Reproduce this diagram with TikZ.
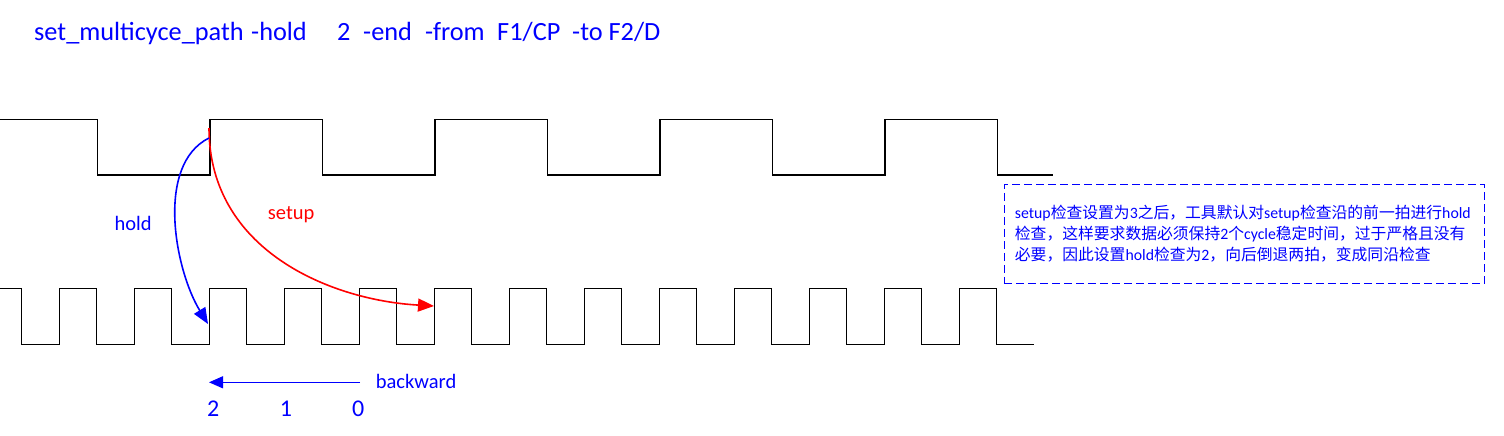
\documentclass[tikz,border=0pt]{standalone}
\usepackage{fontspec}
\setmainfont{Carlito}
\newfontfamily\cjk{Noto Sans CJK SC}
\usetikzlibrary{arrows.meta}
\definecolor{myblue}{RGB}{0,0,255}
\definecolor{myred}{RGB}{255,0,0}
\tikzset{
  clk/.style={line width=1.2pt, black},
  holdarrow/.style={line width=1.6pt, myblue, -{Triangle[length=16pt,width=13pt]}},
  setuparrow/.style={line width=1.6pt, myred, -{Triangle[length=16pt,width=13pt]}},
  backarrow/.style={line width=1.2pt, myblue, -{Triangle[length=14pt,width=12pt]}},
  titletext/.style={font=\fontsize{26.3}{31}\selectfont, text=myblue, inner sep=0pt, anchor=base west},
  lbl/.style={font=\fontsize{20.5}{24}\selectfont, inner sep=0pt, anchor=base west},
  digit/.style={font=\fontsize{24}{28}\selectfont, inner sep=0pt, anchor=base, text=myblue},
  notebox/.style={draw=myblue, line width=1.2pt, dash pattern=on 8pt off 4pt,
    minimum width=480pt, minimum height=99.4pt, text width=458.6pt, inner xsep=10.7pt,
    align=left, text=myblue, font=\fontsize{15.8}{21}\selectfont}
}
\begin{document}
\begin{tikzpicture}[x=1pt,y=-1pt]
\useasboundingbox (0,0) rectangle (1504,436);
% title
\node[titletext] (t1) at (34,40.7) {set\_multicyce\_path};
\node[titletext] (t2) at (251,40.7) {-hold};
\node[titletext] (t3) at (337,40.7) {2};
\node[titletext] (t4) at (363,40.7) {-end};
\node[titletext] (t5) at (425,40.7) {-from};
\node[titletext] (t6) at (497,40.7) {F1/CP};
\node[titletext] (t7) at (572,40.7) {-to F2/D};
% top clock
\draw[clk] (0,119.3)
  \foreach \k in {0,...,3} {
    -- ({97.3+225*\k},119.3) -- ({97.3+225*\k},175) -- ({210+225*\k},175) -- ({210+225*\k},119.3)
  } -- (997.3,119.3) -- (997.3,175) -- (1053,175);
% bottom clock
\draw[clk] (0,288.3)
  \foreach \k in {0,...,12} {
    -- ({21.8+75*\k},288.3) -- ({21.8+75*\k},344.3) -- ({59.3+75*\k},344.3) -- ({59.3+75*\k},288.3)
  } -- (996.8,288.3) -- (996.8,344.3) -- (1034,344.3);
% arrows
\coordinate (ss) at (209,128);
\coordinate (se) at (434,306);
\coordinate (hs) at (209,138);
\coordinate (he) at (208,324);
\draw[setuparrow] (ss) .. controls (209,250) and (330,300) .. (se);
\draw[holdarrow] (hs) .. controls (155,165) and (175,270) .. (he);
\node[lbl, text=myblue] (hold) at (114.3,230.7) {hold};
\node[lbl, text=myred] (setup) at (267.7,219.3) {setup};
% note
\node[notebox] (note) at (1244.2,234) {setup{\cjk 检查设置为}3{\cjk 之后，工具默认对}setup{\cjk 检查沿的前一拍进行}hold\\
{\cjk 检查，这样要求数据必须保持}2{\cjk 个}cycle{\cjk 稳定时间，过于严格且没有}\\
{\cjk 必要，因此设置}hold{\cjk 检查为}2{\cjk ，向后倒退两拍，变成同沿检查}};
% backward
\coordinate (bs) at (360,382.3);
\coordinate (be) at (209,382.3);
\draw[backarrow] (bs) -- (be);
\node[lbl, text=myblue] (bw) at (375.7,388.3) {backward};
\node[digit] (n2) at (213.3,416) {2};
\node[digit] (n1) at (286,416) {1};
\node[digit] (n0) at (358.3,416) {0};
\end{tikzpicture}
\end{document}
